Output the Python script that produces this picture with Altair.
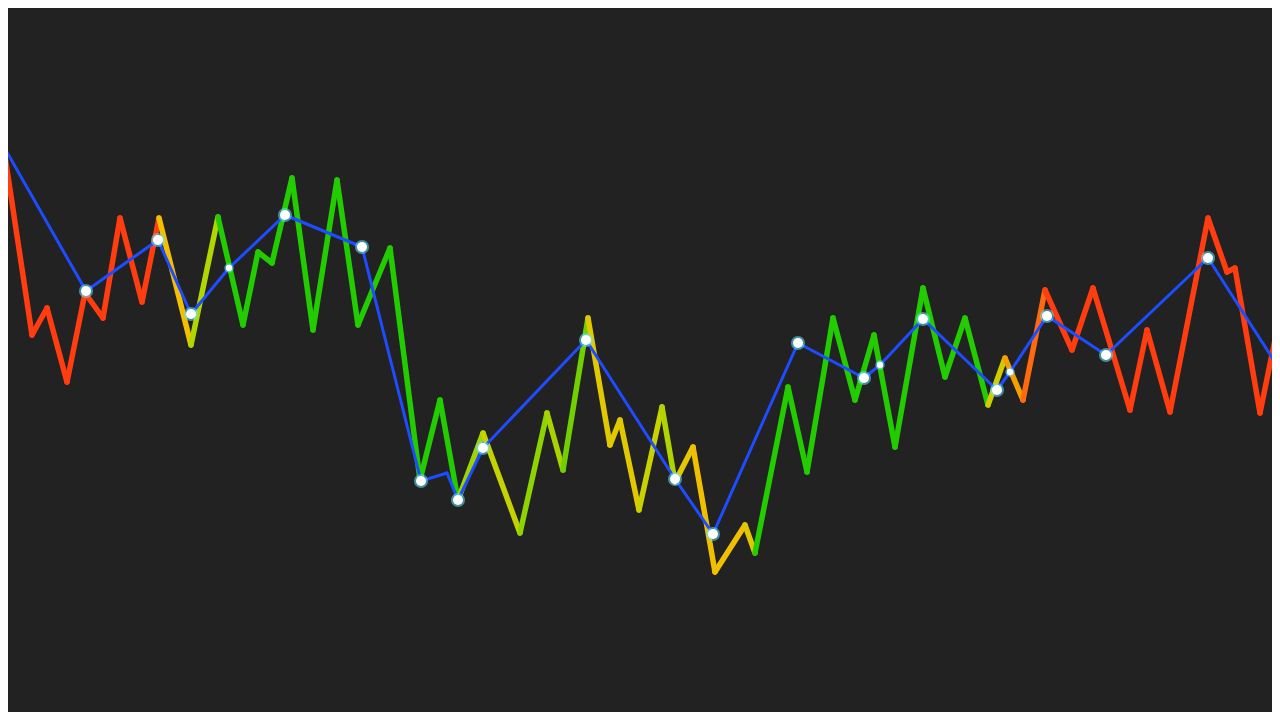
import altair as alt
import pandas as pd

# Multicoloured oscillating series (time index, value)
osc_t = [0, 32, 47, 67, 85, 103, 120, 142, 159, 191, 218, 243, 258, 272, 292, 313, 337, 358,
         390, 420, 440, 458, 483, 520, 547, 563, 588, 610, 620, 639, 662, 675, 693, 715, 745,
         755, 788, 807, 833, 855, 874, 895, 923, 945, 965, 988, 1005, 1023, 1045, 1072, 1093,
         1130, 1147, 1170, 1208, 1227, 1235, 1260, 1280]
osc_v = [597, 385, 412, 338, 427, 402, 502, 418, 502, 375, 503, 395, 468, 457, 542, 390, 540,
         395, 472, 240, 320, 220, 287, 187, 307, 250, 402, 275, 300, 210, 313, 238, 273, 148,
         195, 167, 333, 248, 402, 320, 385, 273, 432, 343, 402, 315, 362, 320, 430, 370, 432,
         310, 390, 308, 502, 448, 452, 307, 405]
# colour of each segment (between consecutive points)
osc_col = (["#ff3d10"] * 8 + ["#f2c000", "#b0d800"] + ["#22cc00"] * 11 +
           ["#9ed400", "#c4d200", "#8ed400", "#a8d200", "#70d000",
            "#e2c800", "#e2c800", "#e2c800", "#c8d200", "#b0d400", "#e6c800",
            "#f0c000", "#f0c000", "#e0c800"] +
           ["#22cc00"] * 10 + ["#d0cc00", "#f5a000", "#ff6a10"] + ["#ff3d10"] * 10)

# Blue smoothed series
blue_t = [0, 86, 158, 191, 229, 285, 362, 421, 447, 458, 483, 586, 675, 713, 798, 864, 880,
          923, 997, 1010, 1047, 1106, 1208, 1280]
blue_v = [580, 429, 480, 406, 452, 505, 473, 239, 247, 220, 272, 380, 241, 186, 377, 342,
          355, 401, 330, 348, 404, 365, 462, 350]
blue_dot = [1, 2, 2, 2, 1, 2, 2, 2, 0, 2, 2, 2, 2, 2, 2, 2, 1, 2, 2, 1, 2, 2, 2, 1]

segs = pd.DataFrame({
    "t": osc_t[:-1], "v": osc_v[:-1], "t2": osc_t[1:], "v2": osc_v[1:],
    "c": osc_col[:len(osc_t) - 1],
})
bsegs = pd.DataFrame({"t": blue_t[:-1], "v": blue_v[:-1], "t2": blue_t[1:], "v2": blue_v[1:]})
pts = pd.DataFrame({"t": blue_t, "v": blue_v, "d": blue_dot})
big = pts[pts.d == 2]
small = pts[pts.d == 1]

xs = alt.Scale(domain=[8, 1272], nice=False, zero=False)
ys = alt.Scale(domain=[8, 712], nice=False, zero=False)
X = alt.X("t:Q", scale=xs, axis=None)
Y = alt.Y("v:Q", scale=ys, axis=None)

osc = alt.Chart(segs).mark_rule(strokeWidth=5.5, strokeCap="round", clip=True).encode(
    x=X, y=Y, x2="t2:Q", y2="v2:Q", color=alt.Color("c:N", scale=None))

blue = alt.Chart(bsegs).mark_rule(strokeWidth=3, strokeCap="round", color="#1e4cff", clip=True).encode(
    x=X, y=Y, x2="t2:Q", y2="v2:Q")

glow = alt.Chart(big).mark_circle(size=200, color="#5fe6ff", opacity=0.55, clip=True).encode(x=X, y=Y)
dots = alt.Chart(big).mark_circle(size=100, color="#ffffff", opacity=1, clip=True).encode(x=X, y=Y)
glow_s = alt.Chart(small).mark_circle(size=90, color="#5fe6ff", opacity=0.55, clip=True).encode(x=X, y=Y)
dots_s = alt.Chart(small).mark_circle(size=40, color="#ffffff", opacity=1, clip=True).encode(x=X, y=Y)

chart = alt.layer(osc, blue, glow, dots, glow_s, dots_s).properties(
    width=1264, height=704,
    autosize=alt.AutoSizeParams(type="fit", contains="padding"),
    padding=0,
    background="#222222",
).configure_view(stroke=None, fill="#222222")

chart.save("out.html", embed_options={"renderer": "svg", "actions": False})
